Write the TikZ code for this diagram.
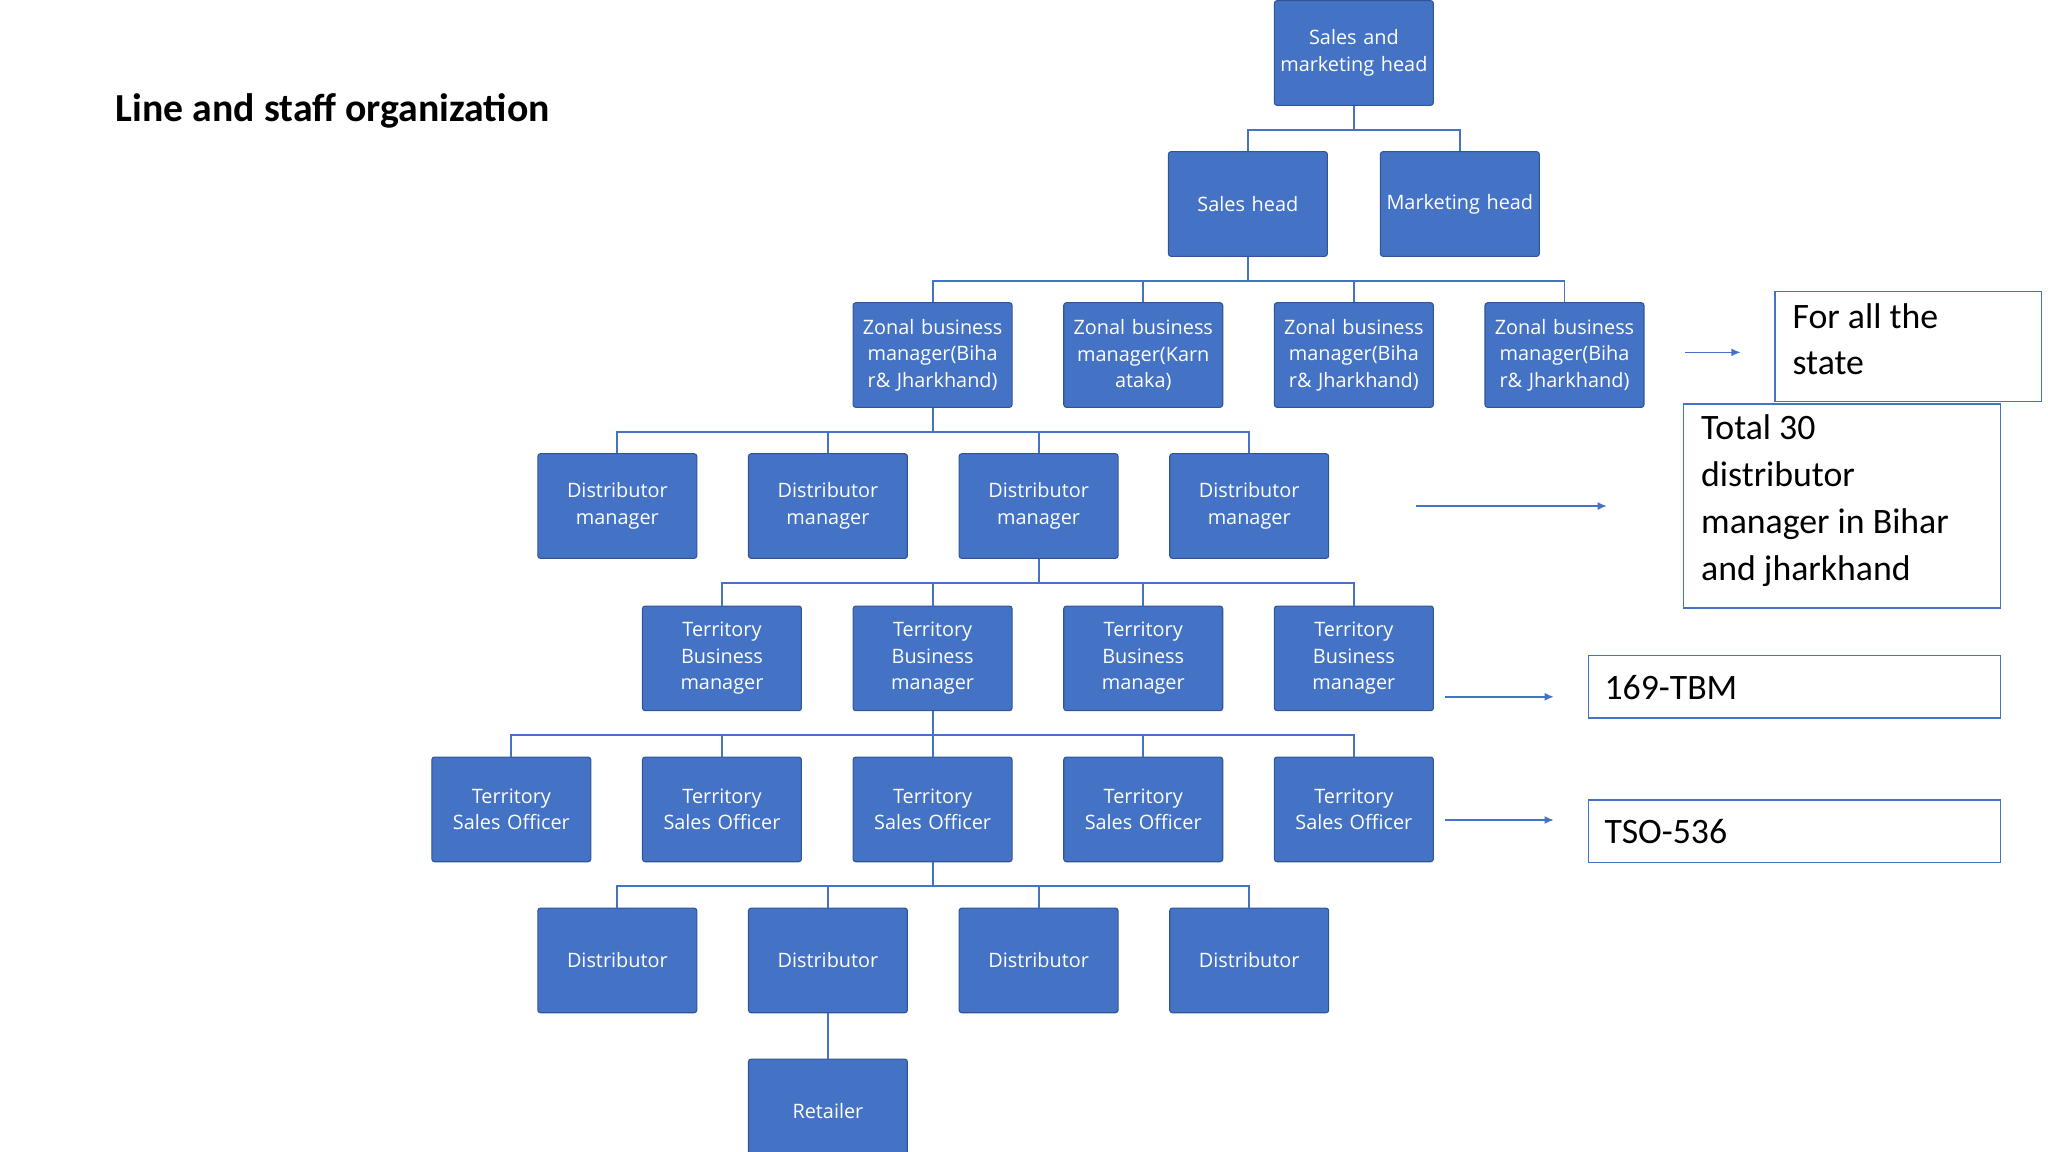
\documentclass[tikz,border=0pt]{standalone}
\usepackage{fontspec}
\setmainfont{Carlito}
\newfontfamily\boxfont{Open Sans}
\usetikzlibrary{arrows.meta}
\definecolor{bx}{HTML}{4472C4}
\definecolor{bxb}{HTML}{2F5597}
\begin{document}
\begin{tikzpicture}[x=1pt,y=-1pt,
  b/.style={draw=bxb,line width=0.8pt,fill=bx,rounded corners=2pt,minimum width=120pt,minimum height=79pt,text width=112pt,align=center,text=white,font=\boxfont\fontsize{15}{20}\selectfont,inner sep=2pt},
  c/.style={draw=bx,line width=1.5pt},
  ar/.style={draw=bx,line width=1.2pt,-{Latex[length=7pt,width=6pt]}},
  t/.style={draw=bx,line width=1pt,align=left,anchor=north west,font=\fontsize{27}{35}\selectfont,inner sep=0pt}]
\useasboundingbox (0,0) rectangle (1546,869);
\node[anchor=west,font=\bfseries\fontsize{30}{36}\selectfont] (title) at (84,84) {Line and staff organization};
\node[b] (top) at (1022,40) {Sales and marketing head};
\node[b] (sh) at (942,154) {Sales head};
\node[b] (mh) at (1102,154) {Marketing head};
\foreach \x/\l [count=\i] in {704/{Zonal business manager(Biha r\& Jharkhand)},863/{Zonal business manager(Karn ataka)},1022/{Zonal business manager(Biha r\& Jharkhand)},1181/{Zonal business manager(Biha r\& Jharkhand)}}
  \node[b] (z\i) at (\x,268) {\l};
\foreach \x [count=\i] in {466,625,784,943} \node[b] (d\i) at (\x,382) {Distributor manager};
\foreach \x [count=\i] in {545,704,863,1022} \node[b] (t\i) at (\x,497) {Territory Business manager};
\foreach \x [count=\i] in {386,545,704,863,1022} \node[b] (s\i) at (\x,611) {Territory Sales Officer};
\foreach \x [count=\i] in {466,625,784,943} \node[b] (r\i) at (\x,725) {Distributor};
\node[b] (ret) at (625,839) {Retailer};
% connectors
\draw[c] (top.south) -- ++(0,18) coordinate (j0);
\foreach \n in {sh,mh} \draw[c] (j0) -| (\n.north);
\draw[c] (sh.south) -- ++(0,18) coordinate (j1);
\foreach \n in {z1,z2,z3,z4} \draw[c] (j1) -| (\n.north);
\draw[c] (z1.south) -- ++(0,18) coordinate (j2);
\foreach \n in {d1,d2,d3,d4} \draw[c] (j2) -| (\n.north);
\draw[c] (d3.south) -- ++(0,18) coordinate (j3);
\foreach \n in {t1,t2,t3,t4} \draw[c] (j3) -| (\n.north);
\draw[c] (t2.south) -- ++(0,18) coordinate (j4);
\foreach \n in {s1,s2,s3,s4,s5} \draw[c] (j4) -| (\n.north);
\draw[c] (s3.south) -- ++(0,18) coordinate (j5);
\foreach \n in {r1,r2,r3,r4} \draw[c] (j5) -| (\n.north);
\draw[c] (r2.south) -- (ret.north);
% notes
\draw[draw=bx,line width=1pt] (1340,220) rectangle (1541,303);
\node[anchor=north west,align=left,font=\fontsize{27}{35}\selectfont,inner sep=0pt] (n1) at (1353,229) {For all the\\state};
\draw[draw=bx,line width=1pt] (1271,305) rectangle (1510,459);
\node[anchor=north west,align=left,font=\fontsize{27}{35.5}\selectfont,inner sep=0pt] (n2) at (1284,313) {Total 30\\distributor\\manager in Bihar\\and jharkhand};
\draw[draw=bx,line width=1pt] (1199,495) rectangle (1510,542);
\node[anchor=west,font=\fontsize{27}{33}\selectfont,inner sep=0pt] (n3) at (1211,519) {169-TBM};
\draw[draw=bx,line width=1pt] (1199,604) rectangle (1510,651);
\node[anchor=west,font=\fontsize{27}{33}\selectfont,inner sep=0pt] (n4) at (1211,628) {TSO-536};
\coordinate (a1) at (1272,266); \coordinate (b1) at (1314,266);
\coordinate (a2) at (1069,382); \coordinate (b2) at (1213,382);
\coordinate (a3) at (1091,526); \coordinate (b3) at (1173,526);
\coordinate (a4) at (1091,619); \coordinate (b4) at (1173,619);
\foreach \i in {1,2,3,4} \draw[ar] (a\i) -- (b\i);
\end{tikzpicture}
\end{document}
